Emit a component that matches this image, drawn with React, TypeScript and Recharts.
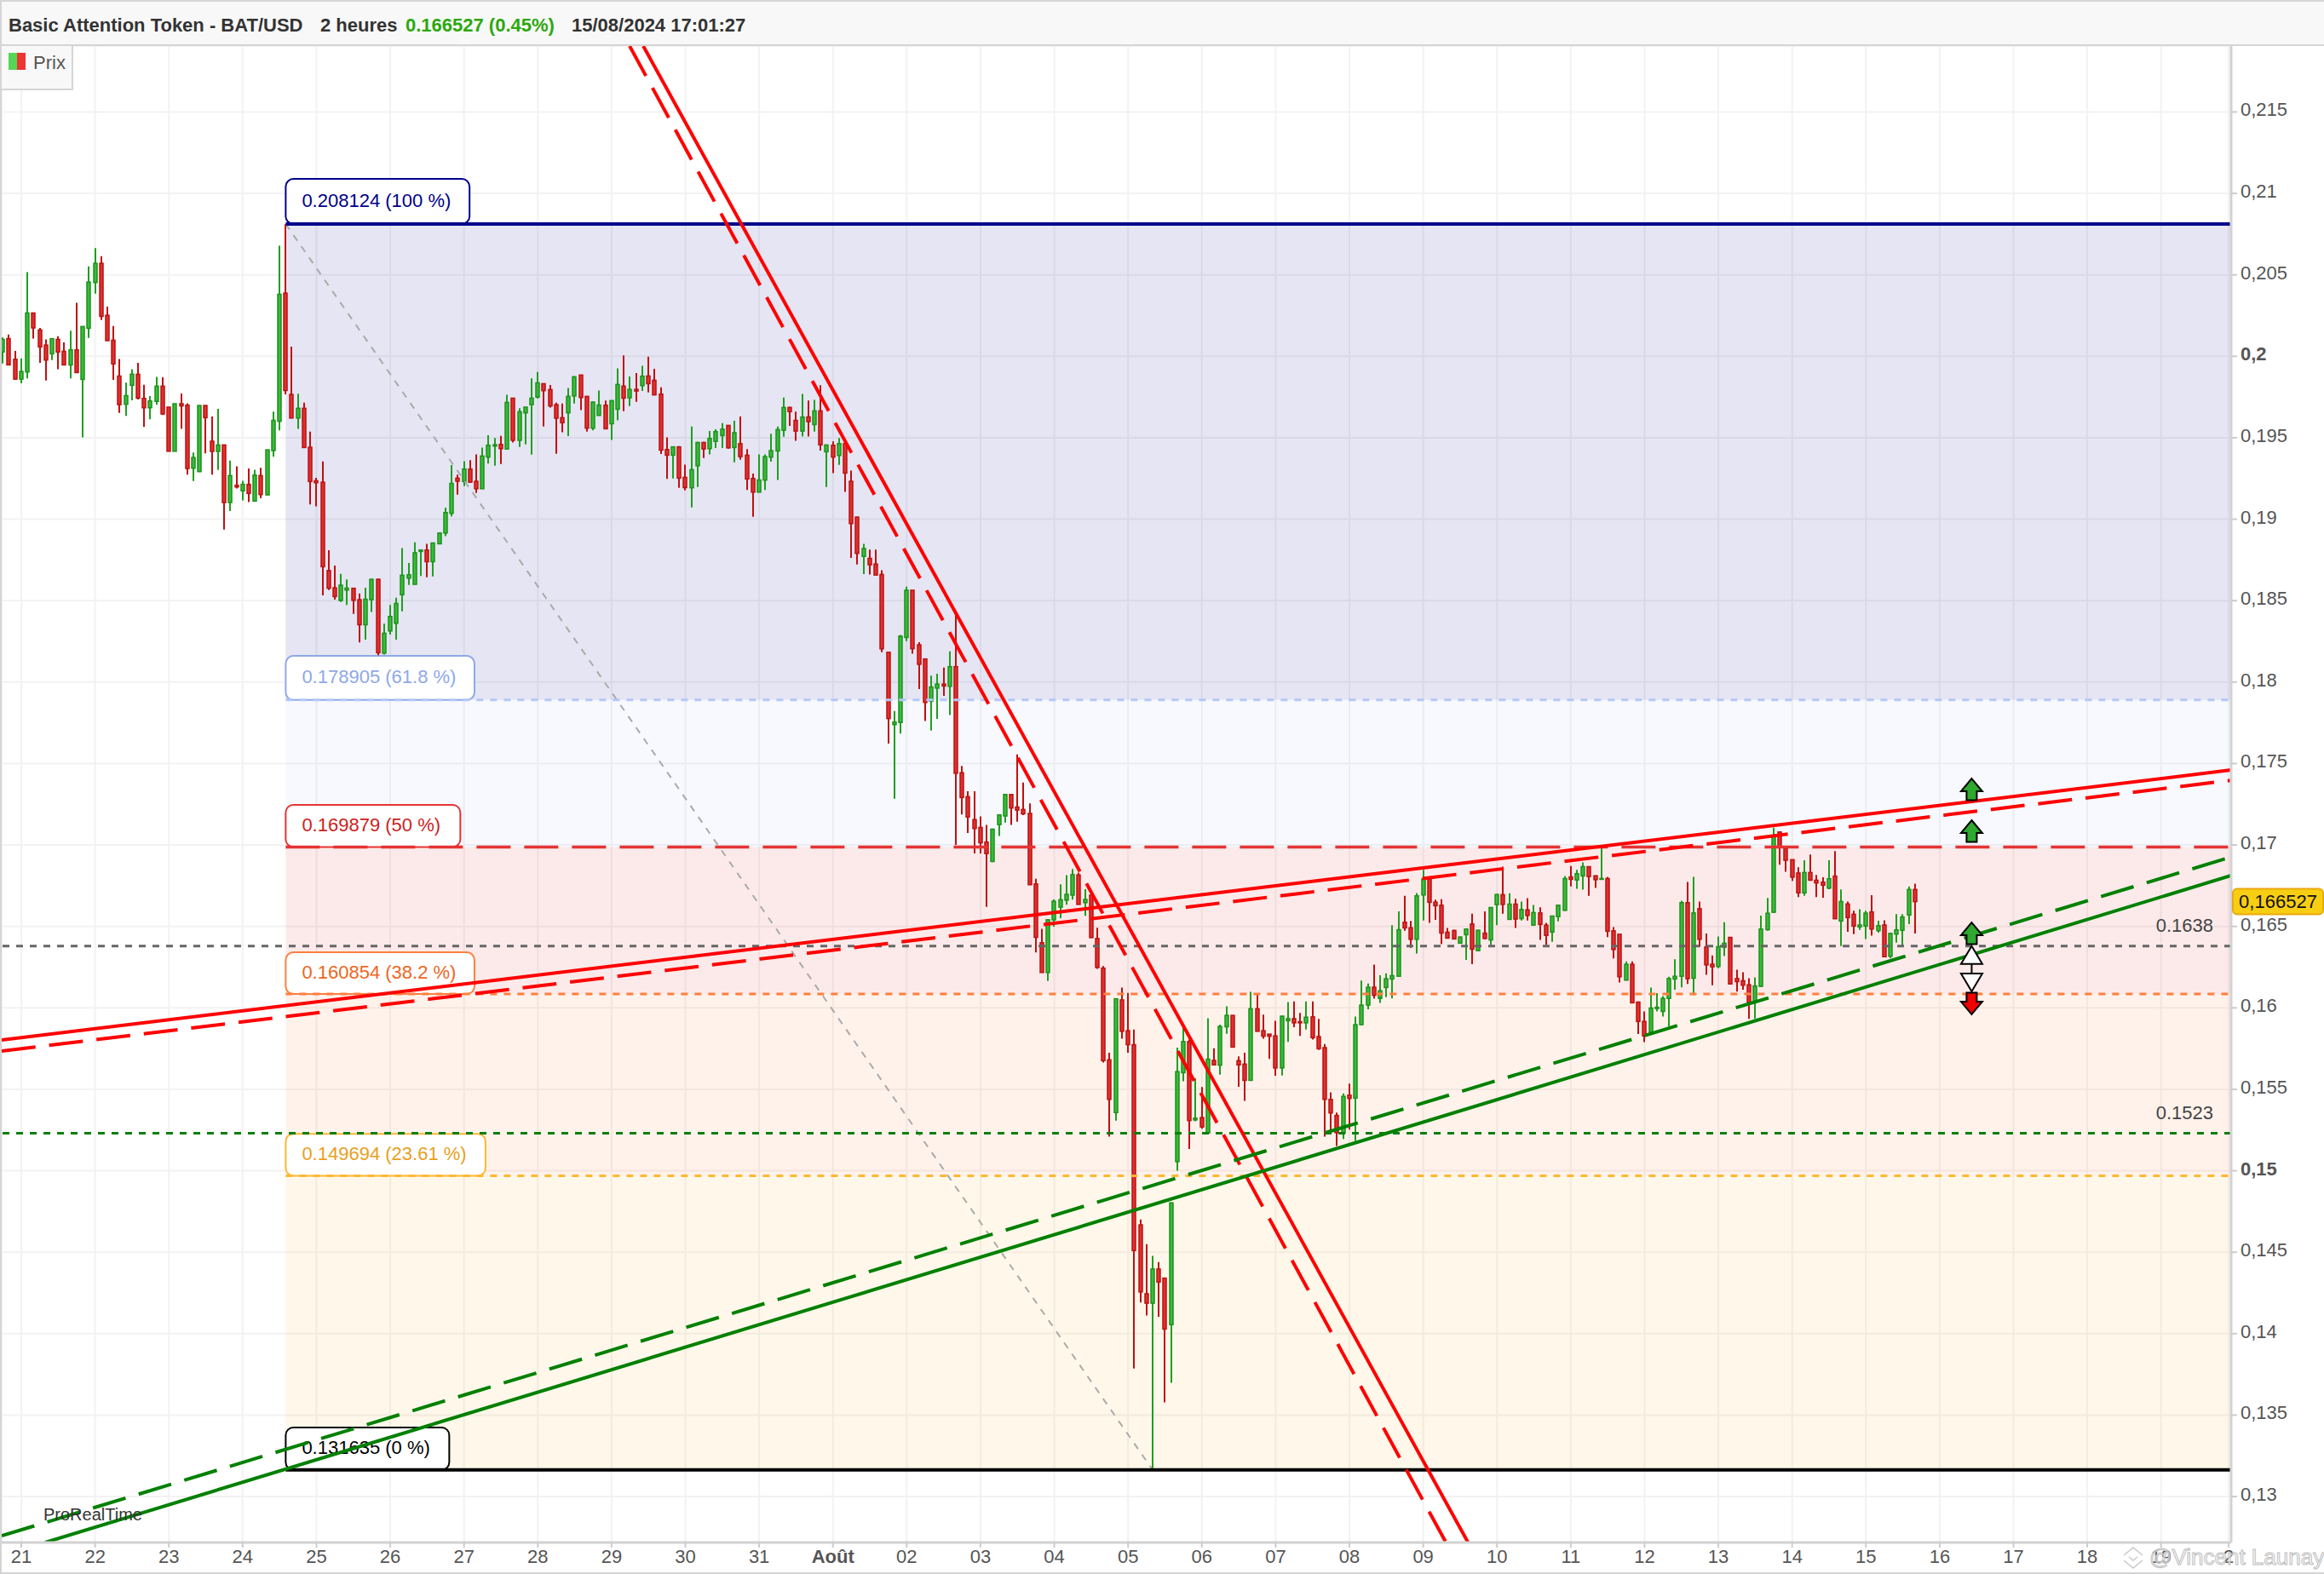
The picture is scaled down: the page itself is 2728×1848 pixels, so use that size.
import React from 'react';
import {
  Bar,
  CartesianGrid,
  ComposedChart,
  ReferenceArea,
  ReferenceDot,
  ReferenceLine,
  XAxis,
  YAxis,
} from 'recharts';

// every row is [open, high, low, close], 2 hour candles
const lateJuly = [
  [0.20026,0.20116,0.19956,0.20104],[0.20109,0.20134,0.19946,0.19947],[0.19982,0.20033,0.19855,0.19860],[0.19860,0.19987,0.19834,0.19907],
  [0.19904,0.20517,0.19864,0.20266],[0.20266,0.20266,0.20109,0.20174],[0.20162,0.20174,0.19960,0.20057],[0.20069,0.20104,0.19851,0.19977],
  [0.20015,0.20109,0.19977,0.20108],[0.20104,0.20123,0.19921,0.20026],[0.20031,0.20085,0.19946,0.19947],[0.19947,0.20157,0.19864,0.20040],
  [0.20040,0.20329,0.19897,0.19900],[0.19858,0.20183,0.19503,0.20183],[0.20172,0.20552,0.20113,0.20456],[0.20453,0.20665,0.20385,0.20571],
  [0.20571,0.20615,0.20223,0.20245],[0.20252,0.20305,0.20096,0.20096],[0.20099,0.20186,0.19855,0.19953],[0.19879,0.19984,0.19653,0.19703],
  [0.19705,0.19838,0.19635,0.19759],[0.19822,0.19921,0.19730,0.19890],[0.19890,0.19960,0.19735,0.19743],[0.19742,0.19825,0.19566,0.19684],
  [0.19684,0.19756,0.19613,0.19726],[0.19723,0.19874,0.19702,0.19817],[0.19817,0.19871,0.19639,0.19646],[0.19688,0.19688,0.19417,0.19417],
  [0.19417,0.19709,0.19417,0.19709],[0.19709,0.19771,0.19555,0.19695],[0.19700,0.19712,0.19273,0.19311],[0.19313,0.19409,0.19234,0.19379],
  [0.19292,0.19700,0.19292,0.19698],[0.19698,0.19700,0.19404,0.19623],[0.19479,0.19630,0.19273,0.19416],[0.19416,0.19677,0.19302,0.19456],
  [0.19456,0.19456,0.18936,0.19102],[0.19102,0.19360,0.19050,0.19268],[0.19208,0.19325,0.19189,0.19198],[0.19174,0.19236,0.19116,0.19214],
  [0.19214,0.19311,0.19105,0.19158],[0.19111,0.19304,0.19109,0.19271],[0.19268,0.19315,0.19128,0.19151],[0.19149,0.19426,0.19149,0.19426],
  [0.19421,0.19660,0.19384,0.19607],[0.19601,0.20679,0.19546,0.20381],[0.20388,0.20812,0.19766,0.19790],[0.19766,0.20059,0.19620,0.19621],
  [0.19621,0.19770,0.19555,0.19681],[0.19681,0.19716,0.19437,0.19440],[0.19442,0.19538,0.19090,0.19231],[0.19236,0.19254,0.19079,0.19224],
  [0.19227,0.19355,0.18532,0.18708],[0.18685,0.18809,0.18565,0.18576],[0.18579,0.18715,0.18506,0.18525],[0.18501,0.18665,0.18492,0.18595],
  [0.18565,0.18631,0.18473,0.18577],[0.18576,0.18579,0.18419,0.18502],[0.18506,0.18544,0.18243,0.18352],[0.18352,0.18579,0.18260,0.18509],
  [0.18506,0.18635,0.18431,0.18631],[0.18631,0.18635,0.18165,0.18180],[0.18178,0.18358,0.18169,0.18300],[0.18314,0.18473,0.18292,0.18403],
  [0.18361,0.18518,0.18260,0.18483],[0.18536,0.18823,0.18434,0.18656],[0.18638,0.18731,0.18597,0.18659],[0.18600,0.18858,0.18600,0.18794],
  [0.18802,0.18814,0.18652,0.18811],[0.18811,0.18849,0.18643,0.18739],[0.18739,0.18854,0.18649,0.18854],[0.18849,0.18915,0.18849,0.18915],
  [0.18915,0.19071,0.18896,0.19041],[0.19036,0.19332,0.19018,0.19220],[0.19252,0.19273,0.19151,0.19233],[0.19231,0.19356,0.19203,0.19308],
  [0.19308,0.19363,0.19224,0.19227],[0.19233,0.19398,0.19161,0.19187],[0.19187,0.19440,0.19187,0.19388],[0.19381,0.19515,0.19342,0.19454],
  [0.19449,0.19498,0.19329,0.19457],[0.19459,0.19512,0.19339,0.19433],[0.19431,0.19764,0.19431,0.19717],[0.19743,0.19743,0.19471,0.19484],
  [0.19484,0.19681,0.19444,0.19660],[0.19653,0.19688,0.19459,0.19688],[0.19703,0.19865,0.19396,0.19743],[0.19750,0.19904,0.19740,0.19837],
  [0.19832,0.19834,0.19569,0.19789],[0.19796,0.19824,0.19686,0.19695],[0.19703,0.19715,0.19402,0.19620],[0.19623,0.19710,0.19534,0.19592],
  [0.19653,0.19806,0.19510,0.19754],[0.19757,0.19879,0.19710,0.19874],[0.19885,0.19885,0.19670,0.19747],[0.19754,0.19754,0.19538,0.19559],
  [0.19559,0.19722,0.19546,0.19719],[0.19637,0.19790,0.19637,0.19701],[0.19700,0.19729,0.19552,0.19555],[0.19586,0.19729,0.19487,0.19728],
  [0.19675,0.19926,0.19607,0.19827],[0.19817,0.20005,0.19663,0.19743],[0.19745,0.19876,0.19695,0.19797],[0.19797,0.19897,0.19721,0.19787],
  [0.19820,0.19942,0.19787,0.19878],[0.19879,0.19998,0.19778,0.19832],[0.19853,0.19923,0.19761,0.19763],[0.19768,0.19810,0.19400,0.19424],
  [0.19428,0.19503,0.19248,0.19393],[0.19393,0.19444,0.19250,0.19444],[0.19444,0.19449,0.19193,0.19252],[0.19257,0.19335,0.19177,0.19194],
  [0.19193,0.19569,0.19072,0.19304],[0.19328,0.19475,0.19198,0.19471],[0.19471,0.19475,0.19376,0.19431],[0.19433,0.19541,0.19398,0.19496],
  [0.19478,0.19552,0.19437,0.19538],[0.19513,0.19590,0.19437,0.19553],[0.19576,0.19576,0.19433,0.19438],[0.19440,0.19604,0.19349,0.19531],
  [0.19464,0.19630,0.19365,0.19384],[0.19393,0.19430,0.19179,0.19247],[0.19250,0.19280,0.19015,0.19166],[0.19166,0.19398,0.19166,0.19241],
  [0.19240,0.19398,0.19179,0.19384],[0.19381,0.19525,0.19353,0.19421],[0.19419,0.19569,0.19241,0.19550],[0.19546,0.19747,0.19506,0.19686],
  [0.19686,0.19691,0.19573,0.19660],[0.19607,0.19660,0.19482,0.19541],[0.19541,0.19769,0.19508,0.19627],[0.19628,0.19729,0.19508,0.19599],
  [0.19581,0.19733,0.19538,0.19665],[0.19665,0.19822,0.19421,0.19456],[0.19414,0.19456,0.19198,0.19456],
];

const earlyAugust = [
  [0.19454,0.19477,0.19283,0.19381],[0.19391,0.19498,0.19334,0.19464],[0.19464,0.19468,0.19168,0.19283],[0.19233,0.19299,0.18762,0.18973],
  [0.19013,0.19015,0.18722,0.18790],[0.18772,0.18849,0.18663,0.18820],[0.18760,0.18814,0.18661,0.18720],[0.18725,0.18814,0.18654,0.18657],
  [0.18661,0.18687,0.18183,0.18204],[0.18183,0.18183,0.17622,0.17776],[0.17739,0.17823,0.17284,0.17754],[0.17752,0.18289,0.17684,0.18282],
  [0.18274,0.18586,0.18251,0.18564],[0.18564,0.18564,0.18174,0.18205],[0.18229,0.18245,0.17957,0.18109],[0.18142,0.18142,0.17761,0.17875],
  [0.17882,0.18040,0.17702,0.17970],[0.17963,0.18051,0.17774,0.17988],[0.17988,0.18089,0.17915,0.17976],[0.17974,0.18188,0.17798,0.18095],
  [0.18095,0.18421,0.17000,0.17440],[0.17444,0.17486,0.17187,0.17291],[0.17297,0.17330,0.17073,0.17172],[0.17156,0.17330,0.16948,0.17101],
  [0.17108,0.17176,0.16948,0.17013],[0.17018,0.17123,0.16620,0.16947],[0.16899,0.17101,0.16895,0.17097],[0.17125,0.17187,0.17055,0.17185],
  [0.17178,0.17312,0.17137,0.17310],[0.17310,0.17312,0.17123,0.17227],[0.17233,0.17556,0.17143,0.17214],[0.17218,0.17383,0.17183,0.17191],
  [0.17194,0.17255,0.16756,0.16756],[0.16761,0.16793,0.16340,0.16433],[0.16400,0.16486,0.16217,0.16217],[0.16217,0.16543,0.16165,0.16541],
  [0.16540,0.16666,0.16499,0.16655],[0.16618,0.16758,0.16551,0.16664],[0.16661,0.16815,0.16633,0.16697],[0.16692,0.16853,0.16664,0.16818],
  [0.16816,0.16831,0.16635,0.16635],[0.16646,0.16728,0.16565,0.16666],[0.16692,0.16716,0.16431,0.16431],[0.16426,0.16492,0.16239,0.16248],
  [0.16244,0.16257,0.15665,0.15676],[0.15681,0.15724,0.15210,0.15438],[0.15357,0.16056,0.15308,0.16056],[0.16049,0.16125,0.15811,0.15856],
  [0.15860,0.16092,0.15724,0.15774],[0.15774,0.15867,0.13786,0.14510],[0.14668,0.14701,0.14191,0.14256],[0.14245,0.14549,0.14111,0.14187],
  [0.14187,0.14477,0.13164,0.14397],[0.14397,0.14440,0.14104,0.14317],[0.14341,0.14343,0.13578,0.14028],[0.14055,0.14805,0.13699,0.14803],
  [0.15056,0.15756,0.15000,0.15609],[0.15602,0.15893,0.15550,0.15793],[0.15793,0.15806,0.15134,0.15308],[0.15312,0.15568,0.15303,0.15323],
  [0.15327,0.15514,0.15258,0.15269],[0.15232,0.15936,0.15232,0.15685],[0.15678,0.15752,0.15650,0.15650],[0.15648,0.15897,0.15590,0.15886],
  [0.15884,0.16010,0.15841,0.15954],[0.15954,0.15954,0.15759,0.15759],[0.15676,0.15702,0.15516,0.15650],[0.15655,0.15724,0.15429,0.15555],
  [0.15555,0.16099,0.15555,0.15995],[0.15995,0.16088,0.15856,0.15856],[0.15860,0.15958,0.15811,0.15826],[0.15839,0.15839,0.15687,0.15826],
  [0.15828,0.15921,0.15583,0.15631],[0.15631,0.15952,0.15585,0.15949],[0.15921,0.16036,0.15791,0.15934],[0.15934,0.16040,0.15882,0.15908],
  [0.15915,0.15969,0.15828,0.15908],[0.15908,0.16040,0.15867,0.15943],[0.15945,0.16040,0.15806,0.15817],[0.15824,0.15932,0.15741,0.15750],
  [0.15756,0.15778,0.15210,0.15438],[0.15438,0.15481,0.15232,0.15355],[0.15340,0.15357,0.15152,0.15234],[0.15232,0.15475,0.15195,0.15457],
  [0.15464,0.15535,0.15253,0.15444],[0.15446,0.15947,0.15182,0.15897],[0.15897,0.16168,0.15893,0.16017],[0.16017,0.16149,0.15991,0.16127],
  [0.16127,0.16266,0.16056,0.16077],[0.16058,0.16201,0.16030,0.16105],[0.16125,0.16212,0.16066,0.16179],
];

const midAugust = [
  [0.16177,0.16508,0.16058,0.16198],[0.16194,0.16592,0.16194,0.16480],[0.16526,0.16688,0.16473,0.16491],[0.16492,0.16534,0.16369,0.16421],
  [0.16421,0.16705,0.16334,0.16688],[0.16693,0.16848,0.16536,0.16792],[0.16792,0.16792,0.16522,0.16648],[0.16649,0.16665,0.16540,0.16627],
  [0.16630,0.16667,0.16391,0.16459],[0.16465,0.16491,0.16426,0.16428],[0.16475,0.16480,0.16421,0.16423],[0.16397,0.16438,0.16395,0.16435],
  [0.16449,0.16484,0.16295,0.16484],[0.16515,0.16578,0.16269,0.16360],[0.16351,0.16477,0.16351,0.16477],[0.16459,0.16592,0.16421,0.16426],
  [0.16417,0.16618,0.16386,0.16616],[0.16634,0.16700,0.16508,0.16696],[0.16695,0.16867,0.16578,0.16635],[0.16543,0.16703,0.16543,0.16637],
  [0.16637,0.16670,0.16491,0.16545],[0.16548,0.16653,0.16536,0.16604],[0.16602,0.16674,0.16536,0.16567],[0.16508,0.16632,0.16505,0.16585],
  [0.16583,0.16618,0.16417,0.16512],[0.16508,0.16522,0.16386,0.16445],[0.16465,0.16566,0.16405,0.16564],[0.16560,0.16635,0.16531,0.16630],
  [0.16599,0.16810,0.16595,0.16794],[0.16804,0.16871,0.16745,0.16789],[0.16785,0.16848,0.16731,0.16824],[0.16810,0.16893,0.16726,0.16867],
  [0.16867,0.16869,0.16688,0.16806],[0.16811,0.16813,0.16736,0.16787],[0.16789,0.16984,0.16789,0.16794],[0.16794,0.16804,0.16435,0.16470],
  [0.16473,0.16496,0.16304,0.16358],[0.16452,0.16452,0.16156,0.16191],[0.16170,0.16285,0.16170,0.16268],[0.16268,0.16285,0.16031,0.16031],
  [0.16036,0.16037,0.15839,0.15916],[0.15917,0.15978,0.15790,0.15828],[0.15851,0.16125,0.15851,0.15999],[0.15996,0.16090,0.15978,0.16004],
  [0.15978,0.16072,0.15947,0.16058],[0.16058,0.16191,0.15886,0.16180],[0.16177,0.16299,0.16112,0.16194],[0.16194,0.16658,0.16126,0.16646],
  [0.16646,0.16773,0.16147,0.16179],[0.16182,0.16804,0.16078,0.16583],[0.16609,0.16653,0.16374,0.16421],[0.16374,0.16456,0.16203,0.16264],
  [0.16268,0.16322,0.16139,0.16252],[0.16254,0.16438,0.16243,0.16376],[0.16372,0.16526,0.16318,0.16397],[0.16433,0.16433,0.16147,0.16147],
  [0.16180,0.16234,0.16100,0.16161],[0.16167,0.16219,0.16112,0.16139],[0.16142,0.16182,0.15933,0.16034],[0.16034,0.16187,0.15933,0.16135],
  [0.16132,0.16566,0.16130,0.16484],[0.16480,0.16675,0.16473,0.16581],[0.16587,0.17106,0.16583,0.17054],[0.17080,0.17080,0.16879,0.16984],
  [0.16979,0.16984,0.16836,0.16906],[0.16910,0.16910,0.16779,0.16802],[0.16828,0.16863,0.16680,0.16706],[0.16706,0.16906,0.16688,0.16831],
  [0.16831,0.16941,0.16779,0.16784],[0.16784,0.16816,0.16680,0.16767],[0.16772,0.16802,0.16676,0.16753],[0.16735,0.16906,0.16728,0.16793],
  [0.16809,0.16962,0.16545,0.16547],[0.16533,0.16727,0.16380,0.16653],[0.16638,0.16653,0.16467,0.16554],[0.16575,0.16596,0.16453,0.16502],
  [0.16497,0.16606,0.16479,0.16509],[0.16502,0.16596,0.16422,0.16582],[0.16589,0.16692,0.16444,0.16484],[0.16474,0.16535,0.16462,0.16505],
  [0.16509,0.16537,0.16310,0.16314],[0.16317,0.16462,0.16305,0.16457],[0.16453,0.16575,0.16401,0.16479],[0.16476,0.16575,0.16375,0.16558],
  [0.16570,0.16746,0.16514,0.16727],[0.16727,0.16763,0.16457,0.16652],
];

const dayTicks = [0,12,24,36,48,60,72,84,96,108,120,132,144,156,168,180,192,204,216,228,240,252,264,276,288,300,312,324,336,348,359];
const dayLabels = ['21','22','23','24','25','26','27','28','29','30','31','Août','02','03','04','05','06','07','08','09','10','11','12','13','14','15','16','17','18','19','2'];
const priceTicks = [0.13,0.135,0.14,0.145,0.15,0.155,0.16,0.165,0.17,0.175,0.18,0.185,0.19,0.195,0.2,0.205,0.21,0.215];
const boldPrices = [0.15,0.2];

const X_MIN = -3.19;
const X_MAX = 359.4;
const Y_MIN = 0.12718;
const Y_MAX = 0.21905;
const FIB_START = 43;
const FIB_END = 184; // slot of the swing low

const fibLevels = [0.208124,0.178905,0.169879,0.160854,0.149694,0.131635];
const fibTexts = ['0.208124 (100 %)','0.178905 (61.8 %)','0.169879 (50 %)','0.160854 (38.2 %)','0.149694 (23.61 %)','0.131635 (0 %)'];
const fibBoxTops = [0.21089,0.18161,0.17246,0.16341,0.15227,0.13424];
const fibBoxEnds = [72.9,73.7,71.4,73.7,75.5,69.6];
const fibLineColors = ['#00008b','#b4c7f7','#e53333','#ff7f3f','#ffb732','#000000'];
const fibTextColors = ['#00008b','#8fa8e8','#cc2222','#ee6622','#e8a01e','#000000'];
const fibDashes = [undefined,'8 8','40 16','8 8','8 8',undefined];
const fibWidths = [4,3,3.5,3,3,4];

const supportLevels = [0.1638,0.1523];
const supportColors = ['#666666','#0b7f0b'];
const supportTexts = ['0.1638','0.1523'];

const trendLines = [
  { color: '#ff0000', dash: undefined, from: [101.15,0.21905], to: [235.3,0.12718] },
  { color: '#ff0000', dash: '40 16', from: [98.93,0.21905], to: [231.7,0.12718] },
  { color: '#ff0000', dash: undefined, from: [-3.19,0.15803], to: [359.4,0.1746] },
  { color: '#ff0000', dash: '40 16', from: [-3.19,0.15735], to: [359.4,0.17397] },
  { color: '#008000', dash: undefined, from: [3.88,0.12718], to: [359.4,0.16812] },
  { color: '#008000', dash: '40 16', from: [-3.19,0.12759], to: [358.5,0.16916] },
];

const ARROW_SLOT = 317.2;
const arrowSignals = [
  { price: 0.17408, kind: 'up' },
  { price: 0.17152, kind: 'up' },
  { price: 0.16524, kind: 'up' },
  { price: 0.1638, kind: 'open' },
  { price: 0.16101, kind: 'openDown' },
  { price: 0.1596, kind: 'down' },
];

const candles = [...lateJuly, ...earlyAugust, ...midAugust].map((c, i) => ({
  slot: i - 3,
  open: c[0],
  high: c[1],
  low: c[2],
  close: c[3],
}));
const lastClose = 0.166527;

const FONT = '"Liberation Sans", Arial, sans-serif';

const Candle = (props: any) => {
  const { x, y, width, height, payload } = props;
  const { open, high, low, close } = payload;
  const ratio = height / (high - low || 1);
  const top = y + (high - Math.max(open, close)) * ratio;
  const bottom = y + (high - Math.min(open, close)) * ratio;
  const cx = Math.round(x + width / 2);
  const up = close >= open;
  return (
    <g>
      <line x1={cx} x2={cx} y1={y} y2={y + height} stroke={up ? '#1f9f1f' : '#c01010'} strokeWidth={2} />
      <rect
        x={cx - 2}
        y={top}
        width={4}
        height={Math.max(bottom - top, 1)}
        fill={up ? '#3cb93c' : '#e03030'}
        stroke={up ? '#1a931a' : '#bb1212'}
        strokeWidth={1.5}
      />
    </g>
  );
};

const DayTick = (props: any) => {
  const { x, y, index } = props;
  const label = dayLabels[index];
  return (
    <text x={x} y={y + 16} textAnchor="middle" fontFamily={FONT} fontSize={22} fill="#555" fontWeight={label === 'Août' ? 'bold' : 'normal'}>
      {label}
    </text>
  );
};

const PriceTick = (props: any) => {
  const { x, y, payload } = props;
  const bold = boldPrices.includes(payload.value);
  return (
    <text x={x} y={y + 5} fontFamily={FONT} fontSize={22} fill="#555" fontWeight={bold ? 'bold' : 'normal'}>
      {String(payload.value).replace('.', ',')}
    </text>
  );
};

const FibBox = (props: any) => {
  const { x, y, width, height, color, textColor, text } = props;
  return (
    <g>
      <rect x={x} y={y} width={width} height={height} rx={9} fill="#fff" stroke={color} strokeWidth={2} />
      <text x={x + 19} y={y + height / 2 + 6.5} fontFamily={FONT} fontSize={22} fill={textColor}>
        {text}
      </text>
    </g>
  );
};

const SignalArrow = (props: any) => {
  const { cx, cy, kind } = props;
  if (kind === 'up') {
    return (
      <path
        d={`M${cx} ${cy} l12.5 15 h-6.5 v10.5 h-12 v-10.5 h-6.5 z`}
        fill="#2ea82e"
        stroke="#000"
        strokeWidth={2}
      />
    );
  }
  if (kind === 'down') {
    return (
      <path
        d={`M${cx} ${cy} l12.5 -15 h-6.5 v-10.5 h-12 v10.5 h-6.5 z`}
        fill="#f00000"
        stroke="#000"
        strokeWidth={2}
      />
    );
  }
  if (kind === 'open') {
    return (
      <g>
        <path d={`M${cx} ${cy} l12.5 21 h-25 z`} fill="#fff" stroke="#000" strokeWidth={2} />
        <line x1={cx} x2={cx} y1={cy + 21} y2={cy + 32} stroke="#000" strokeWidth={2} />
      </g>
    );
  }
  return <path d={`M${cx} ${cy} l12.5 -21 h-25 z`} fill="#fff" stroke="#000" strokeWidth={2} />;
};

const App = () => {
  return (
    <div style={{ position: 'absolute', left: 0, top: 0, width: 2728, height: 1848, overflow: 'hidden', background: '#fff', fontFamily: FONT }}>
      <ComposedChart
        width={2728}
        height={1848}
        data={candles}
        margin={{ top: 54, right: 0, bottom: 0, left: 2 }}
      >
        <CartesianGrid stroke="#f2f2f2" strokeWidth={2} />
        <XAxis
          dataKey="slot"
          type="number"
          domain={[X_MIN, X_MAX]}
          allowDataOverflow
          ticks={dayTicks}
          interval={0}
          height={37}
          tick={<DayTick />}
          tickSize={6}
          tickLine={{ stroke: '#cccccc', strokeWidth: 2 }}
          axisLine={{ stroke: '#d2d2d2', strokeWidth: 3 }}
        />
        <YAxis
          orientation="right"
          type="number"
          domain={[Y_MIN, Y_MAX]}
          allowDataOverflow
          ticks={priceTicks}
          interval={0}
          width={109}
          tick={<PriceTick />}
          tickSize={7}
          tickMargin={4}
          tickLine={{ stroke: '#cccccc', strokeWidth: 2 }}
          axisLine={{ stroke: '#d2d2d2', strokeWidth: 3 }}
        />
        <Bar
          dataKey={(d: any) => [d.low, d.high]}
          barSize={5}
          shape={<Candle />}
          isAnimationActive={false}
        />
        {fibLevels.slice(0, -1).map((level, i) => (
          <ReferenceArea
            key={`band-${level}`}
            x1={FIB_START}
            x2={X_MAX}
            y1={fibLevels[i + 1]}
            y2={level}
            fill={fibLineColors[i]}
            fillOpacity={0.1}
            stroke="none"
            ifOverflow="hidden"
          />
        ))}
        <ReferenceLine
          segment={[{ x: FIB_START, y: fibLevels[0] }, { x: FIB_END, y: fibLevels[5] }]}
          stroke="#aaaaaa"
          strokeWidth={2}
          strokeDasharray="8 8"
          ifOverflow="hidden"
        />
        {fibLevels.map((level, i) => (
          <ReferenceArea
            key={`box-${level}`}
            x1={FIB_START}
            x2={fibBoxEnds[i]}
            y1={level}
            y2={fibBoxTops[i]}
            ifOverflow="visible"
            shape={<FibBox color={i === 1 ? fibTextColors[i] : fibLineColors[i]} textColor={fibTextColors[i]} text={fibTexts[i]} />}
          />
        ))}
        {fibLevels.map((level, i) => (
          <ReferenceLine
            key={`fib-${level}`}
            segment={[{ x: FIB_START, y: level }, { x: X_MAX, y: level }]}
            stroke={fibLineColors[i]}
            strokeWidth={fibWidths[i]}
            strokeDasharray={fibDashes[i]}
            ifOverflow="hidden"
          />
        ))}
        {supportLevels.map((level, i) => (
          <ReferenceLine
            key={`support-${level}`}
            y={level}
            stroke={supportColors[i]}
            strokeWidth={3}
            strokeDasharray="8 8"
          />
        ))}
        {supportLevels.map((level, i) => (
          <ReferenceDot
            key={`support-text-${level}`}
            x={356.5}
            y={level}
            shape={(p: any) => (
              <text x={p.cx} y={p.cy - 17} textAnchor="end" fontFamily={FONT} fontSize={22} fill="#444">
                {supportTexts[i]}
              </text>
            )}
          />
        ))}
        {trendLines.map((t, i) => (
          <ReferenceLine
            key={`trend-${i}`}
            segment={[{ x: t.from[0], y: t.from[1] }, { x: t.to[0], y: t.to[1] }]}
            stroke={t.color}
            strokeWidth={4}
            strokeDasharray={t.dash}
            ifOverflow="hidden"
          />
        ))}
        {arrowSignals.map((a, i) => (
          <ReferenceDot key={`arrow-${i}`} x={ARROW_SLOT} y={a.price} shape={<SignalArrow kind={a.kind} />} />
        ))}
        <ReferenceDot
          x={X_MAX}
          y={lastClose}
          ifOverflow="visible"
          shape={(p: any) => (
            <g>
              <rect x={p.cx + 2} y={p.cy - 15} width={106} height={30} rx={5} fill="#f7ce12" stroke="#e9a90f" strokeWidth={2} />
              <text x={p.cx + 55} y={p.cy + 8} textAnchor="middle" fontFamily={FONT} fontSize={22} fill="#111">
                {String(lastClose).replace('.', ',')}
              </text>
            </g>
          )}
        />
      </ComposedChart>

      {/* page frame, header strip and legend */}
      <div style={{ position: 'absolute', left: 0, top: 0, width: 2728, height: 54, background: '#f8f8f8', borderTop: '2px solid #d5d5d5', borderBottom: '2px solid #d5d5d5', boxSizing: 'border-box' }} />
      <div style={{ position: 'absolute', left: 0, top: 0, width: 2, height: 1848, background: '#d5d5d5' }} />
      <div style={{ position: 'absolute', left: 0, top: 1846, width: 2728, height: 2, background: '#d5d5d5' }} />
      {[
        { left: 10, text: 'Basic Attention Token - BAT/USD', color: '#333' },
        { left: 376, text: '2 heures', color: '#333' },
        { left: 476, text: '0.166527 (0.45%)', color: '#2da80f' },
        { left: 671, text: '15/08/2024 17:01:27', color: '#333' },
      ].map((h) => (
        <span key={h.text} style={{ position: 'absolute', left: h.left, top: 18, fontSize: 22, lineHeight: '24px', fontWeight: 'bold', color: h.color, whiteSpace: 'nowrap' }}>
          {h.text}
        </span>
      ))}
      <div style={{ position: 'absolute', left: 2, top: 54, width: 82, height: 50, background: '#f8f8f8', borderRight: '2px solid #d5d5d5', borderBottom: '2px solid #d5d5d5' }} />
      <div style={{ position: 'absolute', left: 10, top: 62, width: 10, height: 20, background: '#55d655' }} />
      <div style={{ position: 'absolute', left: 20, top: 62, width: 10, height: 20, background: '#ee3333' }} />
      <span style={{ position: 'absolute', left: 39, top: 62, fontSize: 22, lineHeight: '24px', color: '#555' }}>Prix</span>
      <span style={{ position: 'absolute', left: 51, top: 1767, fontSize: 20, lineHeight: '22px', color: '#333' }}>ProRealTime</span>

      <svg width={240} height={40} style={{ position: 'absolute', left: 2488, top: 1808 }}>
        <path d="M5 18 l11 -9 l11 9 M5 24 l11 9 l11 -9 M11 20 l5 4 l5 -4" fill="none" stroke="#c8c8c8" strokeWidth={1.5} />
        <text x={35} y={29} fontFamily={FONT} fontSize={26} fill="#fff" fillOpacity={0.6} stroke="#bcbcbc" strokeWidth={1}>
          @Vincent Launay
        </text>
      </svg>
    </div>
  );
};

export default App;
